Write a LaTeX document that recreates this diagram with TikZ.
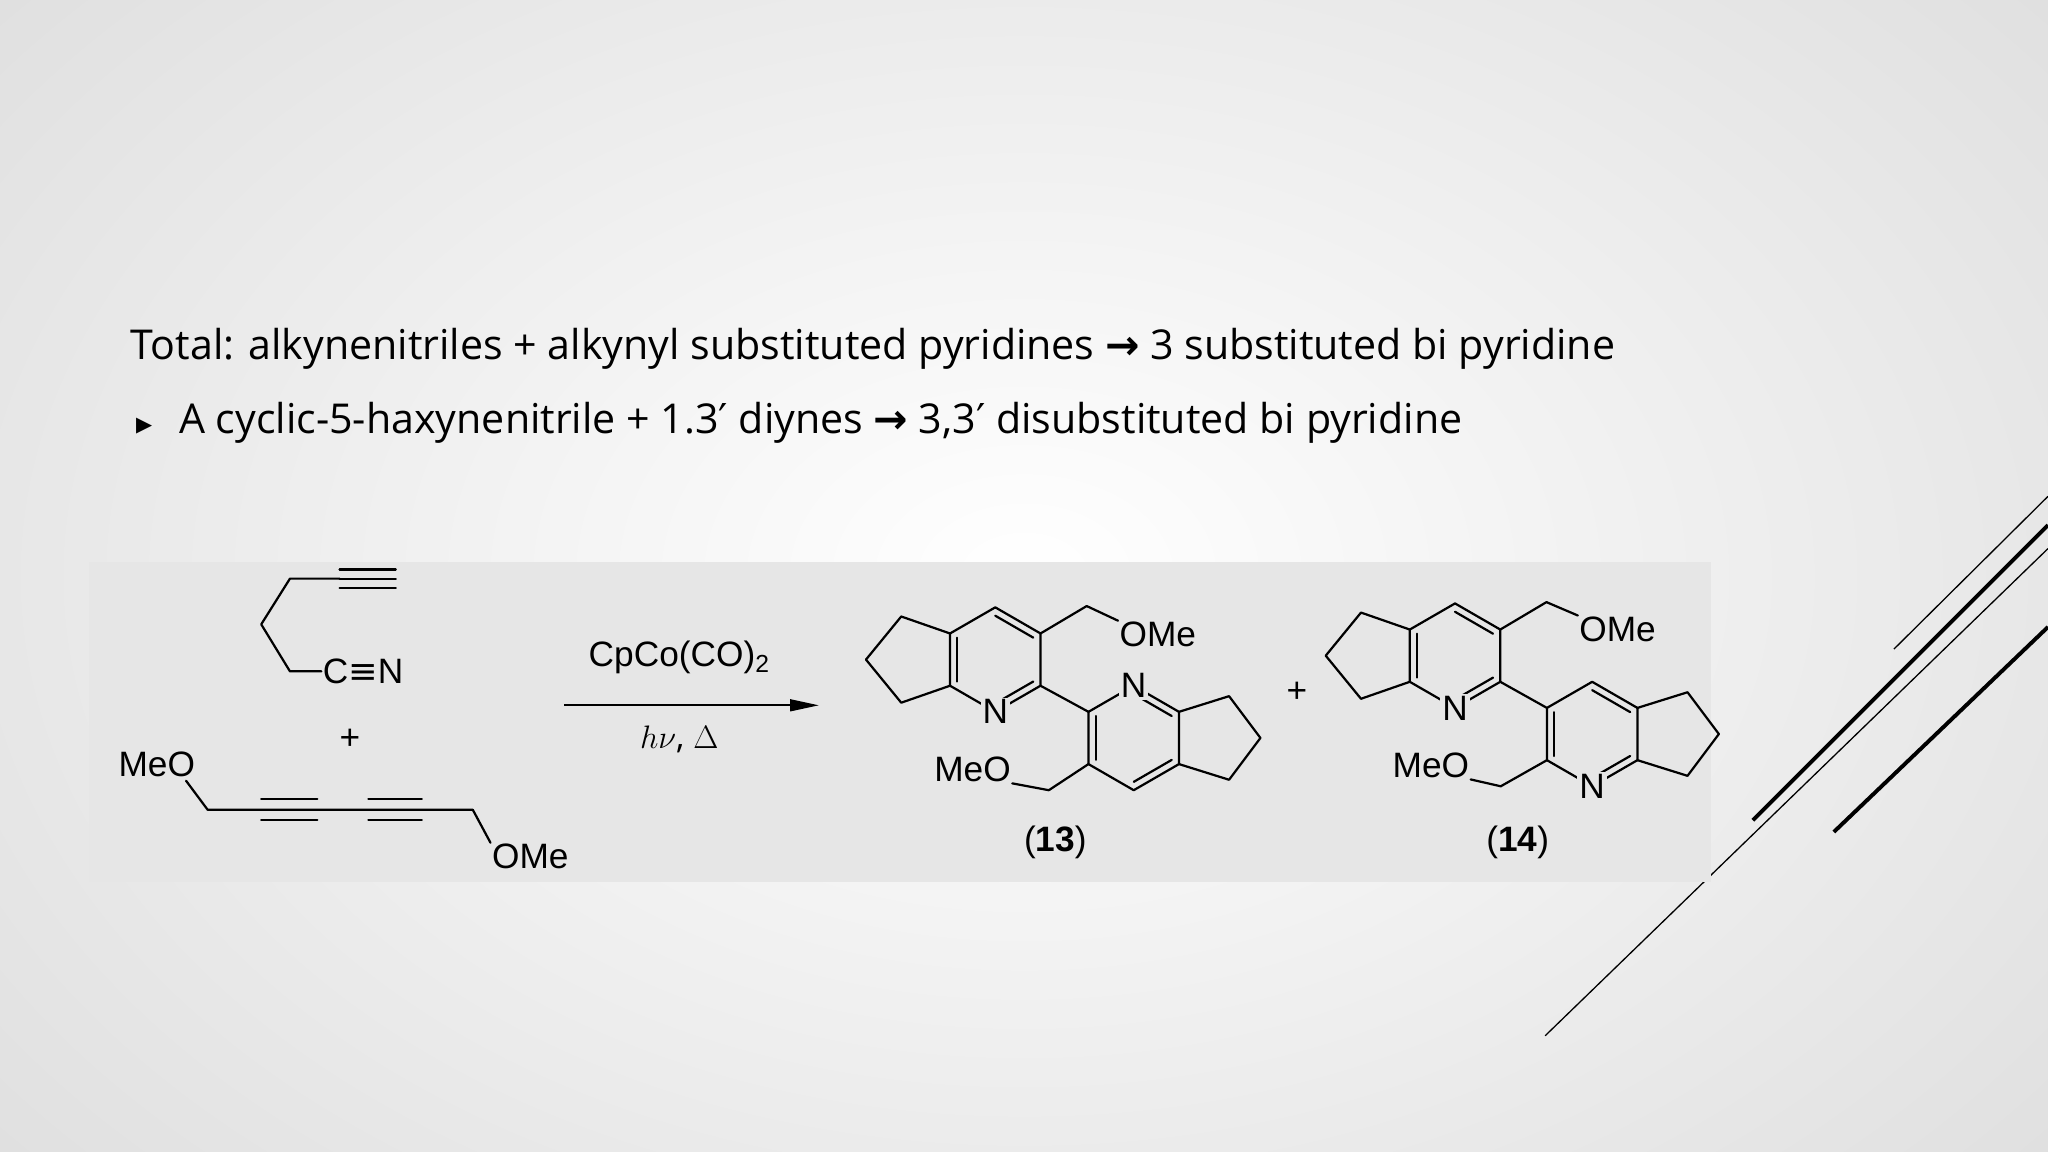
\documentclass[tikz,border=0pt]{standalone}
\usepackage{fontspec}
\setmainfont{Open Sans}
\newfontfamily\chem{Liberation Sans}
\newfontfamily\sym{DejaVu Sans}
\usetikzlibrary{calc,arrows.meta}
\definecolor{boxgray}{HTML}{E6E6E6}
\tikzset{
  bond/.style={line width=1.7pt, line cap=round, line join=round},
  lbl/.style={font=\chem\fontsize{27}{29}\selectfont, inner sep=1pt},
  atomN/.style={font=\chem\fontsize{27}{29}\selectfont, inner sep=1.5pt, fill=boxgray},
  deco/.style={line width=1pt},
  decothick/.style={line width=3pt},
}
\newcommand{\dbl}[3]{\draw[bond] ($(#1)!0.16!(#3)$) -- ($(#2)!0.16!(#3)$);}
\newcommand{\hexring}[3]{% name, cx, cy
  \coordinate (#1c) at (#2,#3);
  \coordinate (#1t) at (#2,#3-40);
  \coordinate (#1ur) at (#2+34.64,#3-20);
  \coordinate (#1lr) at (#2+34.64,#3+20);
  \coordinate (#1b) at (#2,#3+40);
  \coordinate (#1ll) at (#2-34.64,#3+20);
  \coordinate (#1ul) at (#2-34.64,#3-20);
  \draw[bond] (#1t)--(#1ur)--(#1lr)--(#1b)--(#1ll)--(#1ul)--cycle;}
\newcommand{\arr}{{\sym\bfseries →}}
\begin{document}
\begin{tikzpicture}[x=1pt,y=-1pt]
\useasboundingbox (0,0) rectangle (1568,882);
\begin{scope}
\clip (0,0) rectangle (1568,882);
\shade[inner color=white, outer color=black!13] (-300,-300) rectangle (1868,1182);
\end{scope}
% decorative lines
\draw[deco] (1450,497) -- (1568,380);
\draw[decothick] (1342,628) -- (1568,402);
\draw[deco] (1183,793) -- (1568,420);
\draw[decothick] (1404,637) -- (1568,480);
% text
\node[anchor=base west, font=\fontsize{31.5}{36}\selectfont, inner sep=0] (l1) at (100,275)
  {Total: alkynenitriles + alkynyl substituted pyridines \arr{} 3 substituted bi pyridine};
\node[anchor=base west, font=\fontsize{16}{20}\selectfont, inner sep=0] (bul) at (104,330) {\sym ▶};
\node[anchor=base west, font=\fontsize{31.5}{36}\selectfont, inner sep=0] (l2) at (137,332)
  {A cyclic-5-haxynenitrile + 1.3{\sym ′} diynes \arr{} 3,3{\sym ′} disubstituted bi pyridine};
% scheme box
\fill[boxgray] (68,430) rectangle (1310,675);
% nitrile
\coordinate (a1) at (303,443); \coordinate (a2) at (260,443);
\coordinate (a3) at (222,443); \coordinate (a4) at (200,478);
\coordinate (a5) at (222,514); \coordinate (a6) at (246,514);
\draw[bond] (a2)--(a3)--(a4)--(a5)--(a6);
\draw[bond] (260,436)--(303,436) (260,443)--(303,443) (260,450)--(303,450);
\node[lbl, anchor=west] (cn) at (a6) {C{\sym ≡}N};
\node[lbl] (p1) at (268,566) {+};
% diyne
\node[lbl] (meo1) at (120,585) {MeO};
\coordinate (d1) at (159,620); \coordinate (d2) at (362,620);
\node[lbl] (ome1) at (406,656) {OMe};
\draw[bond] (meo1.south east)++(-8,2) -- (d1) -- (d2) -- (ome1.north west);
\foreach \y in {612,628} {\draw[bond] (200,\y)--(243,\y) (282,\y)--(323,\y);}
% arrow
\coordinate (ar1) at (432,540); \coordinate (ar2) at (627,540);
\draw[line width=1.6pt, -{Triangle[length=22pt,width=9pt]}] (ar1) -- (ar2);
\node[lbl] (cat) at (520,503) {CpCo(CO)\textsubscript{2}};
\node[font=\fontsize{26}{28}\selectfont] (cond) at (520,566) {$h\nu$, $\Delta$};
% compound 13
\hexring{A}{762}{505}
\dbl{At}{Aur}{Ac} \dbl{Alr}{Ab}{Ac} \dbl{Aul}{All}{Ac}
\coordinate (Ap1) at (690,472); \coordinate (Ap2) at (663,505); \coordinate (Ap3) at (690,538);
\draw[bond] (Aul)--(Ap1)--(Ap2)--(Ap3)--(All);
\coordinate (Am1) at (832,464);
\node[lbl, anchor=west] (Aome) at (856,486) {OMe};
\draw[bond] (Aur)--(Am1)--(Aome.north west);
\hexring{B}{868}{565}
\draw[bond] (Alr)--(Bul);
\dbl{Bt}{Bur}{Bc} \dbl{Bul}{Bll}{Bc} \dbl{Bb}{Blr}{Bc}
\coordinate (Bp1) at (941,533); \coordinate (Bp2) at (965,565); \coordinate (Bp3) at (941,597);
\draw[bond] (Bur)--(Bp1)--(Bp2)--(Bp3)--(Blr);
\coordinate (Bm1) at (803,605);
\node[lbl, anchor=east] (Bmeo) at (775,589) {MeO};
\draw[bond] (Bll)--(Bm1)--(Bmeo.south east);
\node[atomN] (AN) at (Ab) {N};
\node[atomN] (BN) at (Bt) {N};
\node[lbl] (c13) at (808,645) {(\textbf{13})};
% plus
\node[lbl] (p2) at (993,530) {+};
% compound 14
\hexring{C}{1114}{502}
\dbl{Ct}{Cur}{Cc} \dbl{Clr}{Cb}{Cc} \dbl{Cul}{Cll}{Cc}
\coordinate (Cp1) at (1042,469); \coordinate (Cp2) at (1015,502); \coordinate (Cp3) at (1042,535);
\draw[bond] (Cul)--(Cp1)--(Cp2)--(Cp3)--(Cll);
\coordinate (Cm1) at (1184,461);
\node[lbl, anchor=west] (Come) at (1208,482) {OMe};
\draw[bond] (Cur)--(Cm1)--(Come.north west);
\hexring{D}{1219}{562}
\draw[bond] (Clr)--(Dul);
\dbl{Dt}{Dur}{Dc} \dbl{Dul}{Dll}{Dc} \dbl{Db}{Dlr}{Dc}
\coordinate (Dp1) at (1292,530); \coordinate (Dp2) at (1316,562); \coordinate (Dp3) at (1292,594);
\draw[bond] (Dur)--(Dp1)--(Dp2)--(Dp3)--(Dlr);
\coordinate (Dm1) at (1149,602);
\node[lbl, anchor=east] (Dmeo) at (1126,586) {MeO};
\draw[bond] (Dll)--(Dm1)--(Dmeo.south east);
\node[atomN] (CN) at (Cb) {N};
\node[atomN] (DN) at (Db) {N};
\node[lbl] (c14) at (1162,645) {(\textbf{14})};
\end{tikzpicture}
\end{document}
